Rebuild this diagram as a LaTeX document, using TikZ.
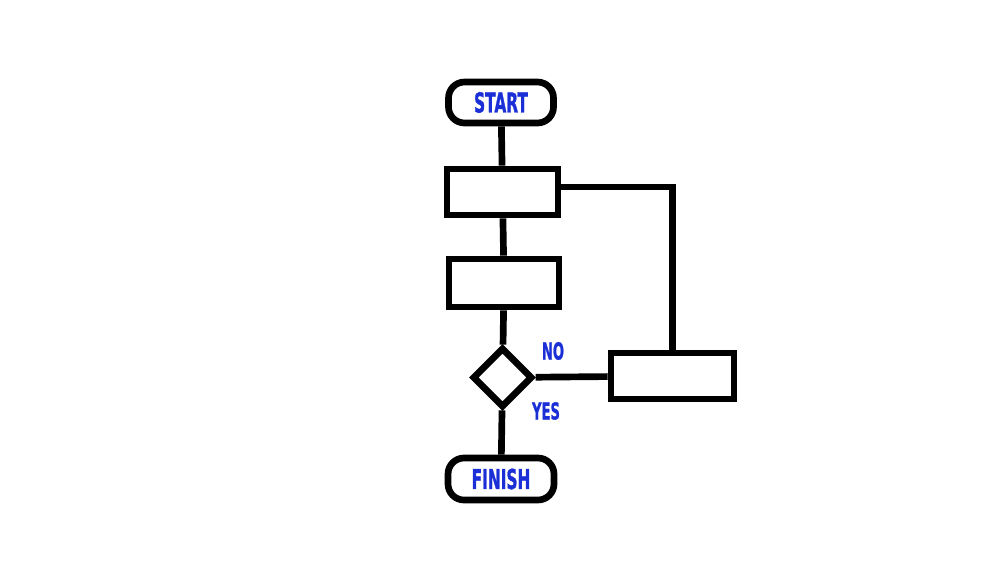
\documentclass[tikz,border=0pt]{standalone}
\usepackage{fontspec}
\usepackage{graphicx}
\setmainfont{DejaVu Sans}[BoldFeatures={FakeBold=1.5}]
\usetikzlibrary{shapes.geometric}
\definecolor{lblblue}{HTML}{1B2FD6}
\newcommand{\narrow}[1]{\scalebox{0.56}[1]{#1}}
\begin{document}
\begin{tikzpicture}[x=0.02cm,y=-0.02cm,
    line width=3.8pt,
    termbox/.style={draw,rectangle,rounded corners=0.32cm,inner sep=0pt,
        font=\fontsize{15.6}{16}\selectfont\bfseries,text=lblblue},
    procbox/.style={draw,rectangle,inner sep=0pt},
    decbox/.style={draw,diamond,inner sep=0pt,minimum size=1.2cm},
    answer/.style={font=\fontsize{13.3}{14}\selectfont\bfseries,text=lblblue}]
    \useasboundingbox (0,0) rectangle (1000,562);
    %% Terminals
    \node[termbox,minimum width=2.1cm,minimum height=0.82cm] (st) at (501,102.5) {\narrow{START}};
    \node[termbox,minimum width=2.12cm,minimum height=0.84cm] (fin) at (501,479) {\narrow{FINISH}};
    %% Steps
    \node[procbox,minimum width=2.22cm,minimum height=0.92cm] (p1) at (502.5,192) {};
    \node[procbox,minimum width=2.2cm,minimum height=0.96cm] (p2) at (504,283) {};
    \node[procbox,minimum width=2.46cm,minimum height=0.92cm] (p3) at (672.5,376) {};
    %% Decision
    \node[decbox] (dec) at (502.5,377.5) {};
    %% Links
    \draw (st) -- (p1);
    \draw (p1) -- (p2);
    \draw (p2) -- (dec);
    \draw (dec) -- (fin);
    \draw (dec) -- (p3);
    \draw ([yshift=0.1cm]p1.east) -| (p3.north);
    %% Answers
    \node[answer] (no) at (553,351) {\narrow{NO}};
    \node[answer] (yes) at (546,411) {\narrow{YES}};
\end{tikzpicture}
\end{document}
